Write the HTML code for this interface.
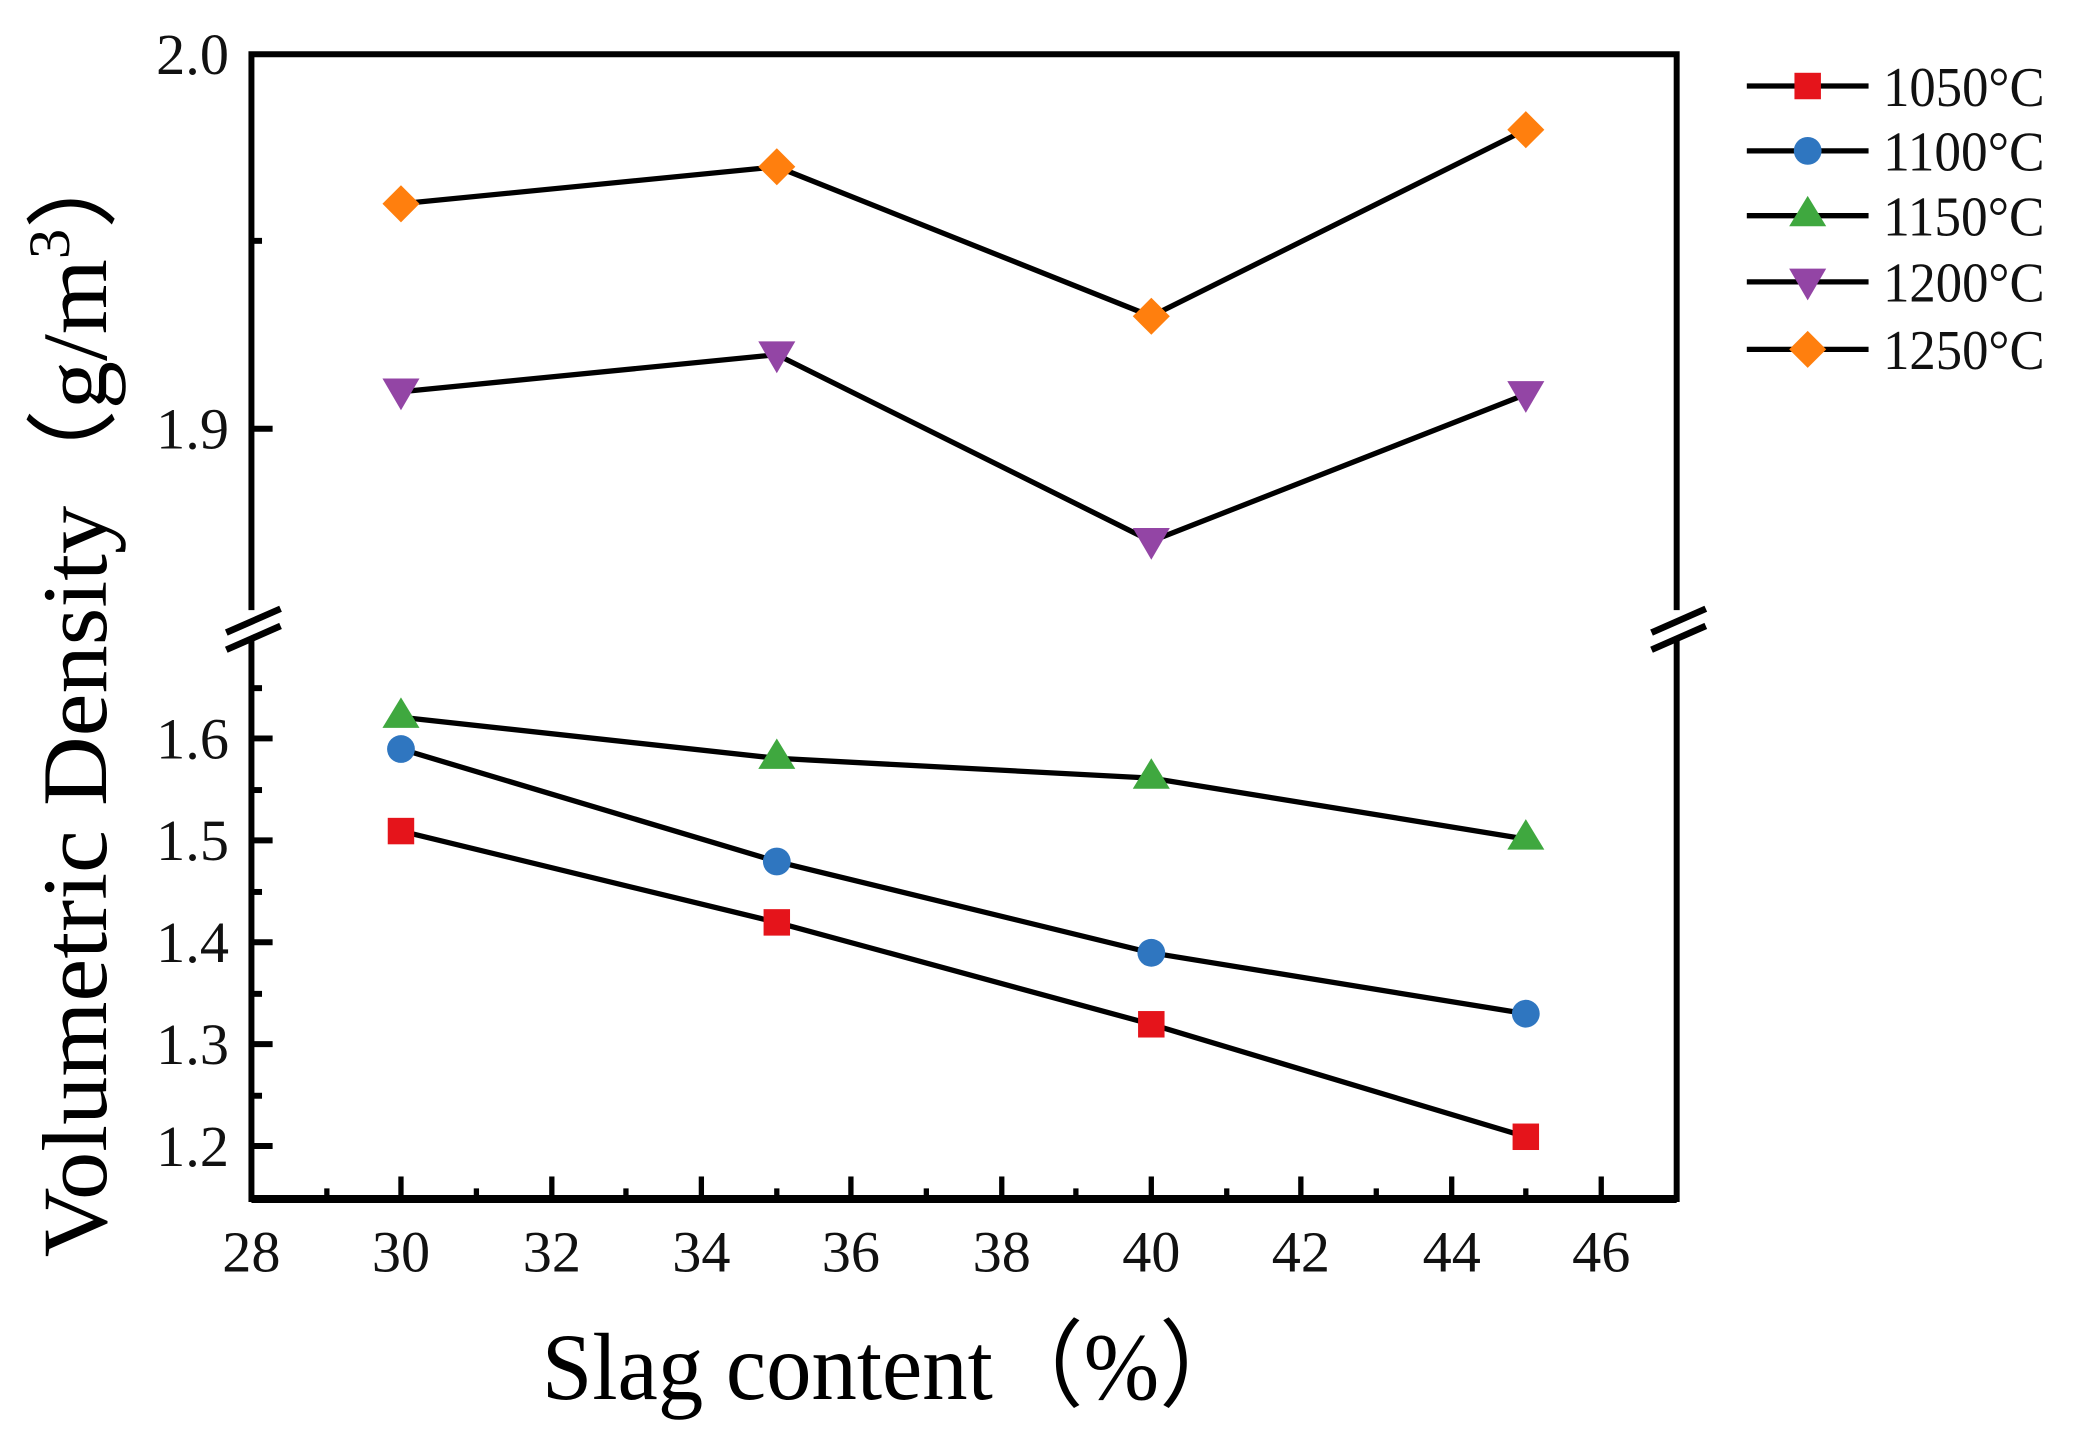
<!DOCTYPE html>
<html><head><meta charset="utf-8"><style>html,body{margin:0;padding:0;background:#fff}svg{display:block}</style></head>
<body>
<svg width="2075" height="1452" viewBox="0 0 1568 1097.2" preserveAspectRatio="none" xmlns="http://www.w3.org/2000/svg" font-family="Liberation Serif, serif">
<rect width="1568" height="1098" fill="#fff"/>
<g stroke="#000" stroke-width="4.5" fill="none">
<path d="M190,461 V41 H1267 V461"/>
<path d="M190,484 V906 H1267 V484"/>
</g>
<line x1="190" y1="906" x2="1267" y2="906" stroke="#000" stroke-width="6"/>
<g stroke="#000" stroke-width="5">
<line x1="171" y1="478" x2="212" y2="460"/>
<line x1="171" y1="491" x2="212" y2="473"/>
<line x1="1248" y1="478" x2="1289" y2="460"/>
<line x1="1248" y1="491" x2="1289" y2="473"/>
</g>
<g stroke="#000" stroke-width="4.5">
<line x1="190" y1="324" x2="206" y2="324"/>
<line x1="190" y1="182" x2="198" y2="182"/>
<line x1="190" y1="558" x2="206" y2="558"/>
<line x1="190" y1="635" x2="206" y2="635"/>
<line x1="190" y1="712" x2="206" y2="712"/>
<line x1="190" y1="789" x2="206" y2="789"/>
<line x1="190" y1="866" x2="206" y2="866"/>
<line x1="190" y1="520" x2="198" y2="520"/>
<line x1="190" y1="597" x2="198" y2="597"/>
<line x1="190" y1="674" x2="198" y2="674"/>
<line x1="190" y1="751" x2="198" y2="751"/>
<line x1="190" y1="828" x2="198" y2="828"/>
</g>
<g stroke="#000" stroke-width="4">
<line x1="303" y1="906" x2="303" y2="889"/><line x1="417" y1="906" x2="417" y2="889"/>
<line x1="530" y1="906" x2="530" y2="889"/><line x1="643" y1="906" x2="643" y2="889"/>
<line x1="757" y1="906" x2="757" y2="889"/><line x1="870" y1="906" x2="870" y2="889"/>
<line x1="983" y1="906" x2="983" y2="889"/><line x1="1097" y1="906" x2="1097" y2="889"/>
<line x1="1210" y1="906" x2="1210" y2="889"/>
<line x1="247" y1="906" x2="247" y2="898"/><line x1="360" y1="906" x2="360" y2="898"/>
<line x1="473" y1="906" x2="473" y2="898"/><line x1="587" y1="906" x2="587" y2="898"/>
<line x1="700" y1="906" x2="700" y2="898"/><line x1="813" y1="906" x2="813" y2="898"/>
<line x1="927" y1="906" x2="927" y2="898"/><line x1="1040" y1="906" x2="1040" y2="898"/>
<line x1="1153" y1="906" x2="1153" y2="898"/>
</g>
<g font-size="44" text-anchor="end" fill="#111">
<text x="173" y="56">2.0</text>
<text x="173" y="339">1.9</text>
<text x="173" y="573">1.6</text>
<text x="173" y="650">1.5</text>
<text x="173" y="727">1.4</text>
<text x="173" y="804">1.3</text>
<text x="173" y="881">1.2</text>
</g>
<g font-size="44" text-anchor="middle" fill="#111">
<text x="190" y="961">28</text><text x="303" y="961">30</text><text x="417" y="961">32</text>
<text x="530" y="961">34</text><text x="643" y="961">36</text><text x="757" y="961">38</text>
<text x="870" y="961">40</text><text x="983" y="961">42</text><text x="1097" y="961">44</text>
<text x="1210" y="961">46</text>
</g>
<text x="677" y="1057" font-size="72" text-anchor="middle" fill="#000" textLength="535" lengthAdjust="spacingAndGlyphs">Slag content（%）</text>
<text transform="translate(80,525) rotate(-90)" font-size="70" text-anchor="middle" fill="#000" textLength="850" lengthAdjust="spacingAndGlyphs">Volumetric Density（g/m<tspan font-size="44" dy="-28">3</tspan><tspan dy="28">）</tspan></text>
<g stroke="#000" stroke-width="4" fill="none">
<polyline points="303,154 587,126 870,239 1153,98"/>
<polyline points="303,296 587,268 870,409 1153,298"/>
<polyline points="303,542 587,573 870,588 1153,634"/>
<polyline points="303,566 587,651 870,720 1153,766"/>
<polyline points="303,628 587,697 870,774 1153,859"/>
</g>
<defs>
<path id="dia" d="M0,-14 L14,0 L0,14 L-14,0Z" fill="#ff7f0e"/>
<path id="dn" d="M-14,-10 L14,-10 L0,14Z" fill="#9345a5"/>
<path id="up" d="M0,-13 L14,10 L-14,10Z" fill="#3fa83f"/>
<circle id="ci" r="10.5" fill="#2f76c0"/>
<rect id="sq" x="-10" y="-10" width="20" height="20" fill="#e5141b"/>
</defs>
<g>
<use href="#dia" x="303" y="154"/><use href="#dia" x="587" y="126"/><use href="#dia" x="870" y="239"/><use href="#dia" x="1153" y="98"/>
<use href="#dn" x="303" y="296"/><use href="#dn" x="587" y="268"/><use href="#dn" x="870" y="409"/><use href="#dn" x="1153" y="298"/>
<use href="#up" x="303" y="540"/><use href="#up" x="587" y="571"/><use href="#up" x="870" y="586"/><use href="#up" x="1153" y="632"/>
<use href="#ci" x="303" y="566"/><use href="#ci" x="587" y="651"/><use href="#ci" x="870" y="720"/><use href="#ci" x="1153" y="766"/>
<use href="#sq" x="303" y="628"/><use href="#sq" x="587" y="697"/><use href="#sq" x="870" y="774"/><use href="#sq" x="1153" y="859"/>
</g>
<g stroke="#000" stroke-width="4">
<line x1="1320" y1="65" x2="1412" y2="65"/>
<line x1="1320" y1="114" x2="1412" y2="114"/>
<line x1="1320" y1="163" x2="1412" y2="163"/>
<line x1="1320" y1="213" x2="1412" y2="213"/>
<line x1="1320" y1="264" x2="1412" y2="264"/>
</g>
<use href="#sq" x="1366" y="65"/>
<use href="#ci" x="1366" y="114"/>
<use href="#up" x="1366" y="161"/>
<use href="#dn" x="1366" y="213"/>
<use href="#dia" x="1366" y="264"/>
<g font-size="42" fill="#111">
<text x="1423" y="80" textLength="122" lengthAdjust="spacingAndGlyphs">1050°C</text>
<text x="1423" y="129" textLength="122" lengthAdjust="spacingAndGlyphs">1100°C</text>
<text x="1423" y="178" textLength="122" lengthAdjust="spacingAndGlyphs">1150°C</text>
<text x="1423" y="228" textLength="122" lengthAdjust="spacingAndGlyphs">1200°C</text>
<text x="1423" y="279" textLength="122" lengthAdjust="spacingAndGlyphs">1250°C</text>
</g>
</svg>
</body></html>
